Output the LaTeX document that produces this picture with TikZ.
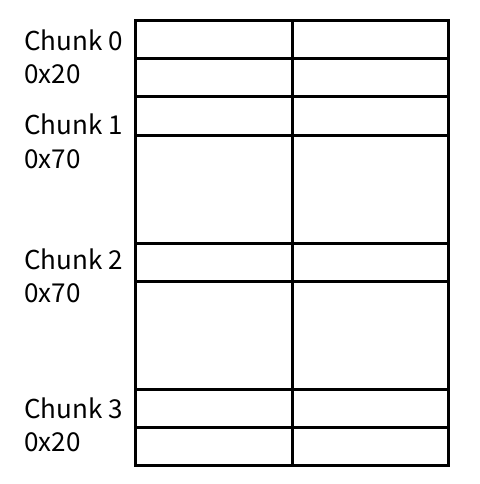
\documentclass[tikz,border=0pt]{standalone}
\usepackage{fontspec}
\setmainfont{Noto Sans CJK SC}
\begin{document}
\begin{tikzpicture}[x=1pt,y=-1pt,
  grid/.style={draw=black,line width=3pt},
  lbl/.style={anchor=base west,inner sep=0pt,font=\fontsize{26}{30}\selectfont}]
\useasboundingbox (0,0) rectangle (479,484);
% rows
\foreach \y in {59,97,135,243,281,389,427}{
  \draw[grid] (135,\y) -- (448,\y);
}
\draw[grid] (292,21) -- (292,465);
\draw[grid] (135,21) rectangle (448,465);
\node[lbl] (c0) at (24,51) {Chunk 0};
\node[lbl] (s0) at (24,84) {0x20};
\node[lbl] (c1) at (24,135) {Chunk 1};
\node[lbl] (s1) at (24,168) {0x70};
\node[lbl] (c2) at (24,269) {Chunk 2};
\node[lbl] (s2) at (24,302) {0x70};
\node[lbl] (c3) at (24,418) {Chunk 3};
\node[lbl] (s3) at (24,451) {0x20};
\end{tikzpicture}
\end{document}
